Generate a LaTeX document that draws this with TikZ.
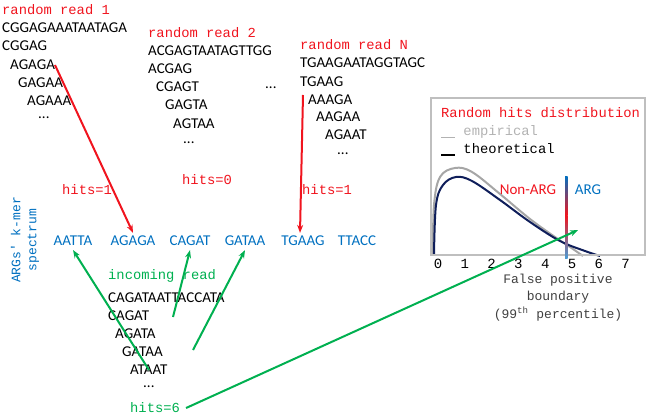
\documentclass[tikz,border=0pt]{standalone}
\usepackage{fontspec}
\setmainfont{Carlito}
\newfontfamily\monof{Liberation Mono}
\usetikzlibrary{arrows.meta,calc}
\definecolor{rred}{RGB}{240,20,30}
\definecolor{kblue}{RGB}{0,112,192}
\definecolor{igreen}{RGB}{0,176,80}
\definecolor{navy}{RGB}{15,30,90}
\begin{document}
\begin{tikzpicture}[x=1pt,y=-1pt,
    seq/.style={anchor=west,inner sep=0pt,font=\fontsize{15}{16}\selectfont},
    lab/.style={anchor=west,inner sep=0pt,font=\monof\fontsize{13.8}{15}\selectfont},
    kmer/.style={inner sep=0pt,text=kblue,font=\fontsize{15}{16}\selectfont},
    redarr/.style={rred,line width=2pt,-{Stealth[length=8pt,width=6pt]}},
    grnarr/.style={igreen,line width=2pt,-{Stealth[length=8pt,width=6pt]}},
   ]
   \useasboundingbox (0,0) rectangle (650,417);
   % random reads
   \node[lab,text=rred] (r1) at (2,10) {random read 1};
   \node[seq] (r1s) at (2,28) {CGGAGAAATAATAGA};
   \node[seq] at (2,46) {CGGAG};
   \node[seq] (r1a) at (10,65) {AGAGA};
   \node[seq] at (18,83) {GAGAA};
   \node[seq] at (27,101) {AGAAA};
   \node[seq] at (38,118) {...};
   \node[lab,text=rred] (r2) at (148,33) {random read 2};
   \node[seq] at (148,51) {ACGAGTAATAGTTGG};
   \node[seq] at (148,69) {ACGAG};
   \node[seq] at (156,87) {CGAGT};
   \node[seq] at (165,105) {GAGTA};
   \node[seq] at (173,124) {AGTAA};
   \node[seq] at (183,143) {...};
   \node[seq] at (265,88) {...};
   \node[lab,text=rred] (rN) at (300,45) {random read N};
   \node[seq] at (300,63) {TGAAGAATAGGTAGC};
   \node[seq] (rNa) at (300,82) {TGAAG};
   \node[seq] at (308,100) {AAAGA};
   \node[seq] at (316,117) {AAGAA};
   \node[seq] at (325,135) {AGAAT};
   \node[seq] at (337,154) {...};
   \node[lab,text=rred] (h1) at (62,190) {hits=1};
   \node[lab,text=rred] (h2) at (182,180) {hits=0};
   \node[lab,text=rred] (hN) at (302,190) {hits=1};
   % k-mer spectrum
   \node[kmer] (k1) at (73,241) {AATTA};
   \node[kmer] (k2) at (133,241) {AGAGA};
   \node[kmer] (k3) at (190,241) {CAGAT};
   \node[kmer] (k4) at (245,241) {GATAA};
   \node[kmer] (k5) at (303,241) {TGAAG};
   \node[kmer] (k6) at (357,241) {TTACC};
   \node[rotate=90,text=kblue,align=center,inner sep=0pt,
     font=\monof\fontsize{13}{16}\selectfont] (spec) at (25,240) {ARGs' k-mer\\spectrum};
   % incoming read
   \node[lab,text=igreen] (in) at (108,276) {incoming read};
   \node[seq] at (108,298) {CAGATAATTACCATA};
   \node[seq] (i1) at (108,316) {CAGAT};
   \node[seq] at (115,334) {AGATA};
   \node[seq] (i3) at (122,352) {GATAA};
   \node[seq] (i4) at (130,370) {ATAAT};
   \node[seq] at (143,387) {...};
   \node[lab,text=igreen] (h6) at (130,408) {hits=6};
   % hit arrows
   \coordinate (a1) at (55,65);
   \coordinate (aN) at (303,95);
   \draw[redarr] (a1) -- ($(k2.north)+(0,-3)$);
   \draw[redarr] (aN) -- ($(k5.north)+(-3,-3)$);
   \coordinate (g1) at (149,370);
   \coordinate (g2) at (173,317);
   \coordinate (g3) at (193,350);
   \coordinate (tgt) at (578,230);
   \draw[grnarr] (g1) -- ($(k1.south)+(0,4)$);
   \draw[grnarr] (g2) -- ($(k3.south)+(0,4)$);
   \draw[grnarr] (g3) -- ($(k4.south)+(0,4)$);
   % distribution chart
   \draw[gray!50,line width=1.5pt] (431,98) rectangle (645,255);
   \node[lab,text=rred] (title) at (441,113) {Random hits distribution};
   \node[lab,text=gray!60] (emp) at (441,132) {\rule[-2pt]{14pt}{1pt} empirical};
   \node[lab] (theo) at (441,150) {\rule[-2pt]{14pt}{1.5pt} theoretical};
   \draw[gray!70,line width=2pt] plot[smooth,tension=0.6] coordinates
     {(433,255) (434,205) (440,177) (455,168) (472,172) (500,194) (530,219) (555,237) (570,247) (583,256)};
   \draw[navy,line width=2pt] plot[smooth,tension=0.6] coordinates
     {(434,255) (436,205) (443,185) (456,177) (472,181) (500,200) (530,222) (560,241) (585,251) (600,256)};
   \draw[gray!50,line width=1.5pt] (431,255) -- (645,255);
   \foreach \i in {0,...,7}
     \node[inner sep=0pt,font=\monof\fontsize{14}{14}\selectfont] (t\i) at (438+26.8*\i,264) {\i};
   \shade[top color=kblue,bottom color=rred] (565,176) rectangle (567.5,215);
   \shade[top color=rred,bottom color=kblue!70] (565,215) rectangle (567.5,258);
   \node[text=rred,inner sep=0pt,font=\fontsize{15}{16}\selectfont] (narg) at (528,190) {Non-ARG};
   \node[text=kblue,inner sep=0pt,font=\fontsize{15}{16}\selectfont] (arg) at (588,190) {ARG};
   \begin{scope}[nodes={inner sep=0pt,text=black!75,font=\monof\fontsize{13}{14}\selectfont}]
     \node (fp1) at (558,280) {False positive};
     \node (fp2) at (558,297) {boundary};
     \node (fp3) at (558,314) {(99\textsuperscript{th} percentile)};
   \end{scope}
   \draw[grnarr] ($(h6.east)+(6,0)$) -- (tgt);
\end{tikzpicture}
\end{document}
